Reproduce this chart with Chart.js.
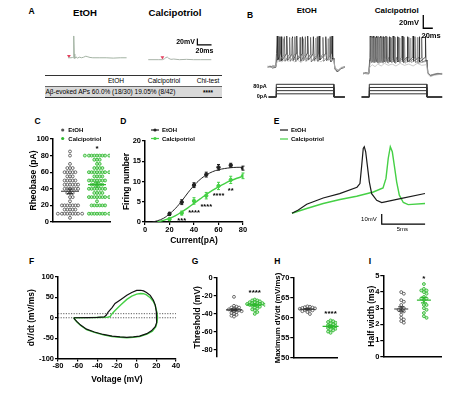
<!DOCTYPE html>
<html>
<head>
<meta charset="utf-8">
<script src="https://cdn.jsdelivr.net/npm/chart.js@4.4.1/dist/chart.umd.min.js"></script>
<style>
  html, body { margin: 0; padding: 0; background: #fff; }
  #fig { position: relative; width: 474px; height: 395px; overflow: hidden; font-family: "Liberation Sans", Arial, sans-serif; color: #000; }
  #fig canvas { position: absolute; }
  .txt { position: absolute; white-space: nowrap; line-height: 1; transform: translate(-50%, -50%); }
  .left { transform: translate(0, -50%); }
  .rule { position: absolute; }
</style>
</head>
<body>
<div id="fig"></div>
<script>
// ---------- A: evoked responses (ms, mV) ----------
const aEtohT = [6, 10, 12, 13.2, 13.6, 14.1, 14.6, 15.3, 17, 19, 22, 25, 28, 31, 34, 37, 41, 50, 60, 70, 80, 89];
const aEtohV = [-70, -70, -69, -70, -64, -1, -58, -72, -67, -71, -68, -70, -68, -65, -67, -69, -70, -70, -70, -71, -70, -70];
const aCalT = [6, 20, 26, 29, 31, 33, 35, 38, 42, 50, 60, 70, 80, 95];
const aCalV = [-76, -76, -76, -73, -69, -68, -72, -75, -74, -76, -75, -76, -76, -76];
const aStimT = [7, 26];
const aStimV = [-64.5, -68.5];
const tableHead = ['EtOH', 'Calcipotriol', 'Chi-test'];
const tableRow = ['A\u03b2-evoked APs', '60.0% (18/30)', '19.05% (8/42)', '****'];

// ---------- B: firing to current steps (ms, mV / pA) ----------
const stepAmps = [20, 40, 60, 80];
const stepOn = 30, stepOff = 151;
const bEtohSweeps = [
  [[12,-70],[20,-71],[29,-70],[31,-64],[36,-61],[42,-63],[48,-59],[55,-62],[61,-58],[68,-63],[75,-60],[82,-64],[89,-58],[96,-61],[103,-57],[110,-62],[117,-59],[124,-63],[131,-58],[138,-61],[145,-59],[151,-60],[153,-73],[159,-76],[166,-72],[174,-71]],
  [[12,-69],[18,-71],[22,-68],[29,-69],[31,-62],[38,-58],[44,-55],[45,-28],[46.5,-61],[54,-57],[62,-54],[63,-27],[64.5,-61],[75,-56],[86,-53],[87,-28],[88.5,-60],[100,-55],[112,-52],[113,-27],[114.5,-59],[126,-55],[138,-53],[139,-28],[140.5,-60],[148,-56],[151,-57],[153,-72],[160,-75],[167,-71],[174,-70]],
  [[12,-70],[29,-70],[31,-60],[35,-52],[36,-25],[37.5,-62],[46,-52],[47,-25],[48.5,-62],[57,-52],[58,-26],[59.5,-62],[68,-52],[69,-25],[70.5,-63],[79,-52],[80,-26],[81.5,-62],[90,-52],[91,-25],[92.5,-62],[101,-52],[102,-26],[103.5,-63],[115,-52],[116,-25],[117.5,-62],[127,-52],[128,-26],[129.5,-62],[142,-52],[143,-25],[144.5,-63],[151,-58],[153,-74],[160,-77],[167,-72],[174,-70]],
  [[12,-71],[17,-69],[22,-72],[29,-71],[30.5,-50],[32,-24],[33.5,-60],[39,-50],[40,-25],[41.5,-61],[51,-51],[52,-24],[53.5,-61],[63,-51],[64,-25],[65.5,-61],[72,-50],[73,-24],[74.5,-60],[84,-51],[85,-25],[86.5,-61],[95,-50],[96,-24],[97.5,-60],[107,-51],[108,-25],[109.5,-61],[119,-50],[120,-24],[121.5,-60],[133,-51],[134,-25],[135.5,-61],[146,-50],[147,-24],[148.5,-60],[151,-57],[153,-72],[158,-78],[165,-73],[174,-71]]
];
const bCalSweeps = [
  [[17,-80],[28,-80],[31,-71],[36,-67],[42,-70],[48,-66],[55,-69],[62,-65],[70,-68],[78,-66],[86,-69],[95,-65],[104,-68],[113,-66],[122,-69],[131,-65],[140,-68],[150,-67],[153,-81],[158,-85],[166,-83],[175,-82],[183,-81]],
  [[17,-79],[29,-80],[31,-66],[33.2,-58],[34,-26],[35.2,-64],[36.7,-58],[37.5,-27],[38.7,-64],[40.2,-58],[41,-26],[42.2,-64],[44.2,-58],[45,-27],[46.2,-64],[48.2,-58],[49,-26],[50.2,-65],[52.2,-58],[53,-27],[54.2,-64],[57.2,-58],[58,-26],[59.2,-65],[62.2,-58],[63,-27],[64.2,-64],[68.2,-58],[69,-26],[70.2,-65],[75.2,-58],[76,-27],[77.2,-64],[83.2,-58],[84,-26],[85.2,-65],[92.2,-58],[93,-27],[94.2,-64],[103.2,-58],[104,-26],[105.2,-65],[116.2,-58],[117,-27],[118.2,-64],[130.2,-58],[131,-26],[132.2,-65],[150,-62],[153,-79],[158,-83],[166,-81],[183,-80]],
  [[17,-80],[29,-81],[31,-64],[32.3,-57],[33,-25],[34.2,-63],[35.3,-57],[36,-26],[37.2,-63],[38.8,-57],[39.5,-25],[40.7,-64],[42.3,-57],[43,-26],[44.2,-63],[46.3,-57],[47,-25],[48.2,-64],[50.3,-57],[51,-26],[52.2,-63],[55.3,-57],[56,-25],[57.2,-64],[60.3,-57],[61,-26],[62.2,-63],[66.3,-57],[67,-25],[68.2,-64],[73.3,-57],[74,-26],[75.2,-63],[81.3,-57],[82,-25],[83.2,-64],[90.3,-57],[91,-26],[92.2,-63],[100.3,-57],[101,-25],[102.2,-64],[112.3,-57],[113,-26],[114.2,-63],[125.3,-57],[126,-25],[127.2,-64],[139.3,-57],[140,-26],[141.2,-63],[151,-60],[153,-80],[159,-84],[167,-82],[183,-81]],
  [[17,-81],[22,-79],[29,-80],[30.8,-60],[31.4,-56],[32,-24],[33.1,-61],[34.4,-56],[35,-25],[36.1,-62],[37.4,-56],[38,-24],[39.1,-62],[40.9,-56],[41.5,-25],[42.6,-62],[44.4,-56],[45,-24],[46.1,-62],[48.9,-56],[49.5,-25],[50.6,-63],[53.4,-56],[54,-24],[55.1,-62],[58.4,-56],[59,-25],[60.1,-63],[64.4,-56],[65,-24],[66.1,-62],[71.4,-56],[72,-25],[73.1,-63],[79.4,-56],[80,-24],[81.1,-62],[88.4,-56],[89,-25],[90.1,-63],[98.4,-56],[99,-24],[100.1,-62],[109.4,-56],[110,-25],[111.1,-63],[121.4,-56],[122,-24],[123.1,-62],[134.4,-56],[135,-25],[136.1,-63],[147.4,-56],[148,-24],[149.1,-62],[151,-60],[153,-79],[158,-83],[165,-82],[174,-80],[183,-81]]
];

// ---------- C: rheobase (pA) ----------
const groups = ['EtOH', 'Calcipotriol'];
const rheoLevels    = [85, 80, 75, 70, 65, 60, 55, 50, 45, 40, 35, 30, 25, 20, 15, 10, 5];
const rheoEtohCount = [ 1,  1,  0,  1,  3,  5,  3,  5,  6,  6,  3,  2,  1,  7,  5,  9, 1];
const rheoCalCount  = [ 0,  9,  3,  2,  4,  8,  4,  7,  5,  7,  4,  8,  1,  6,  0,  8, 0];
const rheoMean = [37, 45];
const rheoSem = [2.8, 2.9];

// ---------- D: firing number vs current ----------
const firingX = [20, 30, 40, 50, 60, 70, 80];
const etohFiring = [2.0, 4.9, 9.1, 11.7, 13.5, 14.0, 13.3];
const etohSem = [0.4, 0.6, 0.6, 0.6, 0.7, 0.5, 0.5];
const calFiring = [0.7, 2.2, 5.2, 6.5, 8.9, 10.4, 11.4];
const calSem = [0.3, 0.5, 0.8, 0.8, 0.9, 0.9, 0.7];
const etohFitX = [6, 10, 15, 20, 25, 30, 35, 40, 45, 50, 55, 60, 65, 70, 75, 80];
const etohFit  = [0, 0.3, 0.9, 2.0, 3.4, 5.2, 7.2, 9.0, 10.5, 11.6, 12.4, 12.9, 13.2, 13.4, 13.5, 13.5];
const calFitX = [10, 15, 20, 25, 30, 35, 40, 45, 50, 55, 60, 65, 70, 75, 80];
const calFit  = [0, 0.4, 0.9, 1.6, 2.5, 3.5, 4.6, 5.7, 6.8, 7.8, 8.7, 9.5, 10.2, 10.8, 11.3];
const sigX = [30, 40, 50, 60, 70];
const sigY = [0.9, 2.7, 4.4, 7.1, 8.3];
const sigText = ['***', '****', '****', '****', '**'];

// ---------- E: single action potentials (ms, mV) ----------
const apEtohT = [0, 0.73, 1.7, 3.6, 5.5, 7.5, 7.84, 8.04, 8.22, 8.34, 8.5, 8.69, 8.92, 9.19, 9.77, 10.35, 12.5, 15.34];
const apEtohV = [-60, -56.8, -51.3, -45.2, -41, -34.8, -31.2, -13.9, 2.8, 4.4, -0.5, -13.6, -29.6, -41, -47.4, -49.6, -45.8, -40.9];
const apCalT = [0, 1.7, 3.6, 5.54, 7.46, 9.38, 10.5, 10.84, 11.1, 11.34, 11.57, 11.8, 12.07, 12.38, 12.84, 13.4, 15.34];
const apCalV = [-60, -55.4, -50.6, -46.7, -43.5, -39.4, -35.5, -26.3, -7, 4.4, -0.5, -13.6, -29.6, -42.5, -49.6, -51.6, -50.6];

// ---------- F: phase plot (mV, mV/ms) ----------
const phEtohV = [-64, -50, -40, -33, -31, -29, -25, -22, -16, -10, -5, 0, 4, 7, 10, 13.8, 17, 18.9, 20, 20.6, 20, 18.9, 15, 10.3, 3, -3.3, -10, -16.9, -25, -34, -43, -51, -57, -61, -64];
const phEtohD = [0, 0.5, 1, 2, 6, 14, 25, 35, 45, 55, 62, 67, 67.5, 66, 62, 55, 43, 31, 15, 0, -12, -22, -32, -39, -45, -47, -48, -47, -45, -41, -35, -28, -18, -9, -1];
const phCalV = [-64, -50, -40, -30, -27, -25, -22, -16, -10, -5, 0, 4, 7, 10, 13.8, 17, 18.9, 20.4, 21.3, 20.6, 19.5, 16, 10.5, 3, -3.3, -10, -17, -25, -34, -43, -51, -57, -61, -64];
const phCalD = [0, 0.3, 0.6, 1, 3, 10, 18, 32, 45, 53, 58, 59.5, 59, 56, 49, 40, 30, 15, 0, -12, -22, -33, -40, -46, -48, -49, -48, -46, -42, -36, -29, -19, -10, -1];
const phRefLines = [0, 10];

// ---------- G, H, I: AP properties ----------
const thrEtoh = [-21, -31, -32, -33, -33, -34, -35, -35, -36, -36, -37, -37, -38, -39, -40, -41, -42, -43];
const thrCal  = [-24, -25, -25, -26, -27, -27, -28, -28, -28, -29, -29, -30, -30, -30, -31, -31, -32, -33, -34, -35, -36, -38, -40];
const thrMean = [-35.5, -30];
const thrSem = [1.2, 0.9];
const maxEtoh = [62.9, 62.8, 62.7, 62.6, 62.5, 62.4, 62.3, 62.2, 62.1, 62.0, 61.9, 61.7, 61.5, 61.0];
const maxCal  = [59.4, 59.2, 59.0, 58.8, 58.6, 58.4, 58.2, 58.0, 57.9, 57.7, 57.5, 57.3, 57.1, 56.9, 56.6, 56.3];
const maxMean = [62.2, 57.9];
const maxSem = [0.15, 0.25];
const hwEtoh = [4.0, 3.9, 3.5, 3.4, 3.2, 3.0, 3.0, 2.9, 2.8, 2.8, 2.6, 2.4, 2.3, 2.2, 2.1];
const hwCal  = [4.5, 4.2, 4.1, 4.1, 4.0, 3.9, 3.7, 3.6, 3.6, 3.5, 3.2, 3.2, 3.0, 2.9, 2.7, 2.5, 2.4];
const hwMean = [2.95, 3.5];
const hwSem = [0.14, 0.17];

// ---------- setup ----------
const FONT = '"Liberation Sans", Arial, sans-serif';
const GREEN = '#45d045', DOTGREEN = '#2fb82f', GREY = '#555';
Chart.defaults.font.family = FONT;
Chart.defaults.color = '#000';
Chart.defaults.animation = false;
Chart.defaults.responsive = false;
Chart.defaults.maintainAspectRatio = false;
Chart.defaults.devicePixelRatio = 1;
Chart.defaults.events = [];
Chart.defaults.plugins.legend.display = false;
Chart.defaults.plugins.tooltip.enabled = false;

const fig = document.getElementById('fig');
function mkCanvas(left, top, w, h) {
  const c = document.createElement('canvas');
  c.width = w; c.height = h;
  c.style.left = left + 'px'; c.style.top = top + 'px';
  c.style.width = w + 'px'; c.style.height = h + 'px';
  fig.appendChild(c);
  return c;
}
function addText(str, x, y, css, cls) {
  const d = document.createElement('div');
  d.className = 'txt' + (cls ? ' ' + cls : '');
  d.textContent = str;
  d.style.left = x + 'px'; d.style.top = y + 'px';
  d.style.cssText += css;
  fig.appendChild(d);
}
function addRule(x, y, w, h, bg) {
  const d = document.createElement('div');
  d.className = 'rule';
  d.style.cssText = `left:${x}px;top:${y}px;width:${w}px;height:${h}px;background:${bg};`;
  fig.appendChild(d);
}
const pts = (xs, ys) => xs.map((x, i) => ({ x, y: ys[i] }));
const expand = (levels, counts) => levels.flatMap((v, i) => Array(counts[i]).fill(v));
function lineDs(xs, ys, color, width, extra) {
  return Object.assign({ type: 'line', data: pts(xs, ys), borderColor: color, borderWidth: width, pointRadius: 0, fill: false, tension: 0 }, extra || {});
}
function pairDs(pairs, color, width, extra) {
  return Object.assign({ type: 'line', data: pairs.map(p => ({ x: p[0], y: p[1] })), borderColor: color, borderWidth: width, pointRadius: 0, fill: false, tension: 0 }, extra || {});
}
const hidden = (min, max) => ({ type: 'linear', min, max, display: false });

function prismY(o) {
  return {
    type: 'linear', position: 'left', min: o.min, max: o.max,
    afterFit: s => { s.width = o.width; },
    ticks: { stepSize: o.step, includeBounds: false, font: { size: 7.5, weight: 'bold' }, padding: 1, color: '#000' },
    grid: { drawOnChartArea: false, tickLength: 3, color: '#000', lineWidth: 1.2 },
    border: { color: '#000', width: 1.5 },
    title: { display: true, text: o.title, font: { size: o.titleSize || 8.5, weight: 'bold' }, padding: { top: o.titlePad, bottom: 0 }, color: '#000' }
  };
}
function prismX(o) {
  return {
    type: 'linear', position: 'bottom', min: o.min, max: o.max,
    afterFit: s => { s.height = o.height; },
    ticks: { stepSize: o.step, font: { size: 7.5, weight: 'bold' }, padding: 0, maxRotation: 0, autoSkip: false, color: '#000' },
    grid: { drawOnChartArea: false, tickLength: 3, color: '#000', lineWidth: 1.2 },
    border: { color: '#000', width: 1.5 },
    title: { display: true, text: o.title, font: { size: 8.5, weight: 'bold' }, padding: { top: 0, bottom: o.titlePad }, color: '#000' }
  };
}
function bareX(max, height, show) {
  return {
    type: 'linear', position: 'bottom', min: 0, max,
    afterFit: s => { s.height = height; },
    ticks: { display: false }, grid: { display: false },
    border: { display: show, color: '#000', width: 1.5 }
  };
}
// simple beeswarm: horizontal offsets (px) so dots do not overlap
function swarm(vals, pxPerUnit, gap) {
  const placed = [];
  return vals.map(v => {
    const py = v * pxPerUnit;
    for (let k = 0; k < 200; k++) {
      const cands = k === 0 ? [0] : [k * gap / 2, -k * gap / 2];
      for (const ox of cands) {
        if (placed.every(p => Math.hypot(p.x - ox, p.y - py) >= gap)) {
          placed.push({ x: ox, y: py });
          return ox;
        }
      }
    }
    return 0;
  });
}
function drawStar(ctx, text, cx, cy, size, color) {
  ctx.save();
  ctx.font = `bold ${size}px ${FONT}`;
  ctx.fillStyle = color;
  ctx.textAlign = 'center';
  ctx.textBaseline = 'alphabetic';
  ctx.fillText(text, cx, cy + size * 0.58);
  ctx.restore();
}
function legendPlugin(items, left, top, dx) {
  return {
    id: 'lg',
    afterDraw(chart) {
      const ctx = chart.ctx;
      ctx.save();
      ctx.font = `bold 6px ${FONT}`;
      ctx.textBaseline = 'middle';
      ctx.textAlign = 'left';
      items.forEach(it => {
        const x = it.x - left, y = it.y - top;
        ctx.strokeStyle = it.color; ctx.fillStyle = it.color; ctx.lineWidth = 1.2;
        if (it.kind !== 'dot') { ctx.beginPath(); ctx.moveTo(x - 4, y); ctx.lineTo(x + 4, y); ctx.stroke(); }
        if (it.kind !== 'line') { ctx.beginPath(); ctx.arc(x, y, 1.6, 0, Math.PI * 2); ctx.fill(); }
        ctx.fillStyle = '#000';
        ctx.fillText(it.label, x + dx, y + 0.5);
      });
      ctx.restore();
    }
  };
}
function scaleBar(b) {
  return {
    id: 'sb',
    afterDraw(chart) {
      const { ctx, scales: { x, y } } = chart;
      const x0 = x.getPixelForValue(b.t), x1 = x.getPixelForValue(b.t + b.dt);
      const y0 = y.getPixelForValue(b.v), y1 = y.getPixelForValue(b.v + b.dv);
      ctx.save();
      ctx.strokeStyle = '#000'; ctx.lineWidth = b.lw;
      ctx.beginPath(); ctx.moveTo(x0, y1); ctx.lineTo(x0, y0); ctx.lineTo(x1, y0); ctx.stroke();
      ctx.fillStyle = '#000'; ctx.font = b.font;
      ctx.textAlign = 'right'; ctx.textBaseline = 'middle';
      ctx.fillText(b.vText, x0 - b.gap, (y0 + y1) / 2 + b.vdy);
      ctx.textAlign = 'center'; ctx.textBaseline = 'top';
      ctx.fillText(b.tText, (x0 + x1) / 2 + b.tdx, y0 + b.gapT);
      ctx.restore();
    }
  };
}

// ---------- panel letters and titles ----------
const panelLetters = ['A', 'B', 'C', 'D', 'E', 'F', 'G', 'H', 'I'];
const letterPos = [[31.7, 11], [250, 15], [37.7, 121], [123.3, 121], [276.7, 121], [31.7, 261], [195, 261], [277.3, 261], [370, 261]];
panelLetters.forEach((l, i) => addText(l, letterPos[i][0], letterPos[i][1], 'font-weight:bold;font-size:8.5px;'));
addText(groups[0], 85, 12.7, 'font-weight:bold;font-size:9.6px;');
addText(groups[1], 175, 12.7, 'font-weight:bold;font-size:9.6px;');
addText(groups[0], 306.7, 10.5, 'font-weight:bold;font-size:8px;');
addText(groups[1], 396.7, 10.5, 'font-weight:bold;font-size:8px;');

// ---------- A ----------
const stimStyle = { type: 'scatter', pointStyle: 'triangle', rotation: 180, pointRadius: 2.2, pointBackgroundColor: '#e4405e', pointBorderWidth: 0 };
new Chart(mkCanvas(60, 25, 75, 45), {
  type: 'line',
  data: { datasets: [
    lineDs(aEtohT, aEtohV, '#a3b3a3', 1),
    Object.assign({ data: [{ x: aStimT[0], y: aStimV[0] }] }, stimStyle)
  ] },
  options: { layout: { padding: 0 }, scales: { x: hidden(0, 95.25), y: hidden(-96, 21) } }
});
new Chart(mkCanvas(140, 25, 80, 45), {
  type: 'line',
  data: { datasets: [
    lineDs(aCalT, aCalV, '#a9b3a9', 1),
    Object.assign({ data: [{ x: aStimT[1], y: aStimV[1] }] }, stimStyle)
  ] },
  options: { layout: { padding: 0 }, scales: { x: hidden(0, 101.6), y: hidden(-96, 21) } },
  plugins: [scaleBar({ t: 75.3, v: -29.4, dt: 20, dv: 20, lw: 1.2, font: `bold 7px ${FONT}`, vText: '20mV', tText: '20ms', gap: 2.5, vdy: 0.5, tdx: 0, gapT: 3 })]
});
// table
addRule(45, 75, 177, 1.3, '#333');
addRule(45, 86, 177, 11.3, '#d9d9d9');
addRule(45, 86, 177, 0.7, '#666');
addRule(45, 97, 177, 1.1, '#333');
const headX = [116, 164, 208];
tableHead.forEach((h, i) => addText(h, headX[i], 81, 'font-size:6.6px;'));
addText(tableRow.slice(0, 3).join(' '), 45.5, 91.7, 'font-size:6.5px;', 'left');
addText(tableRow[3], 208, 92.5, 'font-size:6.3px;font-weight:bold;');

// ---------- B ----------
const bSweepColors = ['#b8b8b8', '#8e8e8e', '#555', '#151515'];
function stepPairs(amp, t0, t1) {
  return [[t0, 0], [stepOn, 0], [stepOn, amp], [stepOff, amp], [stepOff, 0], [t1, 0]];
}
function bChart(left, sweeps, t0, t1, plugins) {
  const ds = sweeps.map((sw, i) => pairDs(sw, bSweepColors[i], 0.7));
  stepAmps.forEach(a => ds.push(pairDs(stepPairs(a, t0, t1), '#333', 1, { yAxisID: 'y2' })));
  new Chart(mkCanvas(left, 5, 88, 95), {
    type: 'line', data: { datasets: ds },
    options: { layout: { padding: 0 }, scales: { x: hidden(0, 184.8), y: hidden(-120, 22.5), y2: hidden(-18.9, 579.6) } },
    plugins
  });
}
bChart(262, bEtohSweeps, 14, 174, []);
bChart(355, bCalSweeps, 14, 183, [scaleBar({ t: 143.4, v: -12.4, dt: 20, dv: 20, lw: 1.3, font: `bold 7.5px ${FONT}`, vText: '20mV', tText: '20ms', gap: 4.3, vdy: 1, tdx: 3, gapT: 4 })]);
addText('80pA', 260, 86.5, 'font-size:5.5px;font-weight:bold;');
addText('0pA', 262, 97, 'font-size:5.5px;font-weight:bold;');

// ---------- C ----------
function dotChart(o) {
  const c = mkCanvas(o.left, o.top, o.w, o.h);
  const areaW = o.w - o.yW - o.padRight;
  const areaH = o.h - o.padTop - o.xH;
  const ppu = areaH / (o.max - o.min);
  const datasets = o.sets.map((vals, g) => {
    const off = swarm(vals, ppu, 2.7);
    const col = g ? DOTGREEN : GREY;
    return {
      type: 'scatter', data: vals.map((v, i) => ({ x: o.centers[g] + off[i], y: v })),
      pointRadius: 1.45, pointBorderWidth: 0.85, pointBorderColor: col,
      pointBackgroundColor: g ? 'rgba(47,184,47,0.3)' : 'rgba(255,255,255,0)'
    };
  });
  const extras = {
    id: 'dotExtras',
    afterDatasetsDraw(chart) {
      const { ctx, scales: { x, y } } = chart;
      ctx.save();
      o.means.forEach((m, g) => {
        const cx = x.getPixelForValue(o.centers[g]);
        const ym = y.getPixelForValue(m);
        const yt = y.getPixelForValue(m + o.sems[g]), yb = y.getPixelForValue(m - o.sems[g]);
        ctx.strokeStyle = g ? DOTGREEN : '#333';
        ctx.lineWidth = 1.1;
        ctx.beginPath();
        ctx.moveTo(cx - o.halfW, ym); ctx.lineTo(cx + o.halfW, ym);
        ctx.moveTo(cx, yt); ctx.lineTo(cx, yb);
        ctx.moveTo(cx - 3, yt); ctx.lineTo(cx + 3, yt);
        ctx.moveTo(cx - 3, yb); ctx.lineTo(cx + 3, yb);
        ctx.stroke();
      });
      (o.stars || []).forEach(s => drawStar(ctx, s.text, x.getPixelForValue(o.centers[s.g]), y.getPixelForValue(s.y), 8, '#000'));
      ctx.restore();
    }
  };
  const plugins = [extras].concat(o.plugins || []);
  new Chart(c, {
    type: 'scatter',
    data: { datasets },
    options: {
      layout: { padding: { left: 0, top: o.padTop, right: o.padRight, bottom: 0 } },
      scales: {
        x: bareX(areaW, o.xH, o.showX),
        y: prismY({ min: o.min, max: o.max, step: o.step, title: o.title, width: o.yW, titlePad: o.titlePad, titleSize: o.titleSize })
      }
    },
    plugins
  });
}
dotChart({
  left: 20, top: 118, w: 95, h: 110, padTop: 21, padRight: 5, yW: 33, xH: 6, showX: true,
  min: 0, max: 100, step: 20, title: 'Rheobase (pA)', titlePad: 9,
  centers: [17, 44], sets: [expand(rheoLevels, rheoEtohCount), expand(rheoLevels, rheoCalCount)],
  means: rheoMean, sems: rheoSem, halfW: 9,
  stars: [{ g: 1, y: 91, text: '*' }],
  plugins: [legendPlugin([
    { x: 62.7, y: 130, label: groups[0], color: GREY, kind: 'dot' },
    { x: 62.7, y: 138.5, label: groups[1], color: DOTGREEN, kind: 'dot' }
  ], 20, 118, 5.6)]
});

// ---------- D ----------
const errPlugin = {
  id: 'err',
  afterDatasetsDraw(chart) {
    const { ctx, scales: { x, y } } = chart;
    ctx.save();
    [[etohFiring, etohSem, '#222'], [calFiring, calSem, GREEN]].forEach(([m, s, col]) => {
      ctx.strokeStyle = col; ctx.lineWidth = 1;
      firingX.forEach((fx, i) => {
        const px = x.getPixelForValue(fx), yt = y.getPixelForValue(m[i] + s[i]), yb = y.getPixelForValue(m[i] - s[i]);
        ctx.beginPath();
        ctx.moveTo(px, yt); ctx.lineTo(px, yb);
        ctx.moveTo(px - 1.5, yt); ctx.lineTo(px + 1.5, yt);
        ctx.moveTo(px - 1.5, yb); ctx.lineTo(px + 1.5, yb);
        ctx.stroke();
      });
    });
    sigX.forEach((sx, i) => drawStar(ctx, sigText[i], x.getPixelForValue(sx), y.getPixelForValue(sigY[i]), 7.5, '#000'));
    ctx.restore();
  }
};
new Chart(mkCanvas(118, 120, 132, 130), {
  type: 'line',
  data: { datasets: [
    lineDs(etohFitX, etohFit, '#222', 1, { tension: 0.4 }),
    lineDs(calFitX, calFit, GREEN, 1.4, { tension: 0.4 }),
    { type: 'scatter', data: pts(firingX, etohFiring), pointRadius: 1.7, pointBackgroundColor: '#222', pointBorderColor: '#222' },
    { type: 'scatter', data: pts(firingX, calFiring), pointRadius: 1.7, pointBackgroundColor: GREEN, pointBorderColor: GREEN }
  ] },
  options: {
    layout: { padding: { left: 0, top: 21, right: 7, bottom: 0 } },
    scales: {
      x: prismX({ min: 0, max: 80, step: 20, title: 'Current(pA)', height: 28, titlePad: 4 }),
      y: prismY({ min: 0, max: 20, step: 5, title: 'Firing number', width: 27, titlePad: 4 })
    }
  },
  plugins: [errPlugin, legendPlugin([
    { x: 155, y: 130, label: groups[0], color: '#222', kind: 'both' },
    { x: 155, y: 138.5, label: groups[1], color: GREEN, kind: 'both' }
  ], 118, 120, 7)]
});

// ---------- E ----------
new Chart(mkCanvas(275, 120, 170, 120), {
  type: 'line',
  data: { datasets: [
    lineDs(apEtohT, apEtohV, '#1a1a1a', 1.2),
    lineDs(apCalT, apCalV, GREEN, 1.4)
  ] },
  options: { layout: { padding: { left: 5, top: 20, right: 5, bottom: 10 } }, scales: { x: hidden(-1.38, 17.07), y: hidden(-76.2, 10.9) } },
  plugins: [
    scaleBar({ t: 10.35, v: -70.6, dt: 5, dv: 10, lw: 1.2, font: `6px ${FONT}`, vText: '10mV', tText: '5ms', gap: 5, vdy: 0, tdx: -1, gapT: 2.5 }),
    legendPlugin([
      { x: 284, y: 130, label: groups[0], color: '#1a1a1a', kind: 'line' },
      { x: 284, y: 139, label: groups[1], color: GREEN, kind: 'line' }
    ], 275, 120, 7)
  ]
});

// ---------- F ----------
const refLinePlugin = {
  id: 'refLines',
  beforeDatasetsDraw(chart) {
    const { ctx, chartArea: a, scales: { y } } = chart;
    ctx.save();
    ctx.strokeStyle = '#333'; ctx.lineWidth = 0.8; ctx.setLineDash([1.2, 1.4]);
    phRefLines.forEach(v => {
      const py = y.getPixelForValue(v);
      ctx.beginPath(); ctx.moveTo(a.left, py); ctx.lineTo(a.right, py); ctx.stroke();
    });
    ctx.restore();
  }
};
new Chart(mkCanvas(22, 262, 160, 130), {
  type: 'line',
  data: { datasets: [
    lineDs(phEtohV, phEtohD, '#111', 1.2),
    lineDs(phCalV, phCalD, GREEN, 1.4)
  ] },
  options: {
    layout: { padding: { left: 0, top: 15, right: 6, bottom: 0 } },
    scales: {
      x: prismX({ min: -80, max: 40, step: 20, title: 'Voltage (mV)', height: 33.5, titlePad: 7 }),
      y: prismY({ min: -100, max: 100, step: 50, title: 'dV/dt (mV/ms)', width: 36, titlePad: 5 })
    }
  },
  plugins: [refLinePlugin]
});

// ---------- G ----------
dotChart({
  left: 190, top: 262, w: 80, h: 100, padTop: 16, padRight: 2, yW: 26.7, xH: 4, showX: false,
  min: -87.5, max: 0, step: 20, title: 'Threshold (mV)', titlePad: 3,
  centers: [18.3, 40.3], sets: [thrEtoh, thrCal], means: thrMean, sems: thrSem, halfW: 8,
  stars: [{ g: 1, y: -14, text: '****' }]
});
// ---------- H ----------
dotChart({
  left: 268, top: 256, w: 74, h: 116, padTop: 22, padRight: 2, yW: 25.3, xH: 14, showX: true,
  min: 50, max: 70, step: 5, title: 'Maximum dV/dt (mV/ms)', titlePad: 5, titleSize: 7.8,
  centers: [15, 39.7], sets: [maxEtoh, maxCal], means: maxMean, sems: maxSem, halfW: 8,
  stars: [{ g: 1, y: 61.7, text: '****' }]
});
// ---------- I ----------
dotChart({
  left: 358, top: 262, w: 88, h: 100, padTop: 14, padRight: 3.3, yW: 25.3, xH: 3.7, showX: true,
  min: 0, max: 5, step: 1, title: 'Half width (ms)', titlePad: 8.5,
  centers: [18.4, 41.7], sets: [hwEtoh, hwCal], means: hwMean, sems: hwSem, halfW: 7,
  stars: [{ g: 1, y: 4.95, text: '*' }]
});
</script>
</body>
</html>
